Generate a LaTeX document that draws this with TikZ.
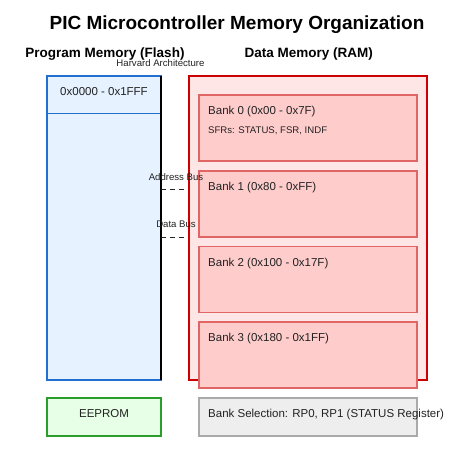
\documentclass[tikz,border=0pt]{standalone}
\usepackage{fontspec}
\setmainfont{Liberation Sans}
\usepackage{tikz}
\usetikzlibrary{positioning}

\definecolor{progfill}{HTML}{E6F2FF}
\definecolor{progline}{HTML}{2170D0}
\definecolor{datafill}{HTML}{FFE6E6}
\definecolor{dataline}{HTML}{CC0000}
\definecolor{bankfill}{HTML}{FFCCCC}
\definecolor{bankline}{HTML}{E06666}
\definecolor{eepfill}{HTML}{E6FFE6}
\definecolor{eepline}{HTML}{2A9D2A}
\definecolor{selfill}{HTML}{EEEEEE}
\definecolor{selline}{HTML}{AAAAAA}
\definecolor{textgray}{HTML}{222222}

\begin{document}
\begin{tikzpicture}[x=1pt,y=-1pt,
        box/.style={inner sep=0pt, outer sep=0pt, anchor=north west},
        bankbox/.style={box, draw=bankline, fill=bankfill, line width=1.5pt,
            minimum width=218pt, minimum height=66pt},
        titletext/.style={inner sep=0pt, font=\bfseries\fontsize{19}{22}\selectfont},
        headtext/.style={inner sep=0pt, font=\bfseries\fontsize{13.5}{16}\selectfont},
        bodytext/.style={inner sep=0pt, text=textgray, font=\fontsize{11.5}{13}\selectfont},
        smalltext/.style={inner sep=0pt, text=textgray, font=\fontsize{9.6}{11}\selectfont},
        busline/.style={dashed, dash pattern=on 5pt off 4pt, line width=1pt, textgray}]
        \useasboundingbox (0,0) rectangle (474,474);

        % headings
        \node[titletext, anchor=base] (title) at (237,29) {PIC Microcontroller Memory Organization};
        \node[headtext, anchor=base] (proghead) at (105,57.3) {Program Memory (Flash)};
        \node[headtext, anchor=base] (datahead) at (308.8,57.3) {Data Memory (RAM)};

        % program memory
        \node[box, draw=progline, fill=progfill, line width=2pt,
            minimum width=114pt, minimum height=304pt] (prog) at (47,75.5) {};
        \draw[progline, line width=1.5pt] (prog.west |- 0,113.3) -- (prog.east |- 0,113.3);
        \draw[black, line width=2pt] (prog.north east) -- (prog.south east);
        \node[bodytext, anchor=base] (progrange) at (104,95) {0x0000 - 0x1FFF};

        % data memory
        \node[box, draw=dataline, fill=datafill, line width=2pt,
            minimum width=238pt, minimum height=304pt] (data) at (189,75.5) {};

        \node[bankbox] (bank0) at (199,95) {};
        \node[bankbox] (bank1) at (199,171) {};
        \node[bankbox] (bank2) at (199,246.5) {};
        \node[bankbox] (bank3) at (199,322) {};

        \node[bodytext, anchor=base west] (bank0t) at ([xshift=9pt,yshift=-19.5pt]bank0.north west) {Bank 0 (0x00 - 0x7F)};
        \node[smalltext, anchor=base west] (sfrs) at ([xshift=9pt,yshift=-38pt]bank0.north west) {SFRs: STATUS, FSR, INDF};
        \node[bodytext, anchor=base west] (bank1t) at ([xshift=9pt,yshift=-19.8pt]bank1.north west) {Bank 1 (0x80 - 0xFF)};
        \node[bodytext, anchor=base west] (bank2t) at ([xshift=9pt,yshift=-20pt]bank2.north west) {Bank 2 (0x100 - 0x17F)};
        \node[bodytext, anchor=base west] (bank3t) at ([xshift=9pt,yshift=-19.7pt]bank3.north west) {Bank 3 (0x180 - 0x1FF)};

        % buses
        \node[smalltext, anchor=base] (harvard) at (160.5,66) {Harvard Architecture};
        \node[smalltext, anchor=base] (addrbus) at (176,180) {Address Bus};
        \node[smalltext, anchor=base] (databus) at (176,227.7) {Data Bus};
        \coordinate (addrA) at (prog.east |- 0,189.7);
        \coordinate (addrB) at (186,189.7);
        \coordinate (dataA) at (prog.east |- 0,237);
        \coordinate (dataB) at (186,237);
        \draw[busline] (addrA) -- (addrB);
        \draw[busline] (dataA) -- (dataB);

        % bottom row
        \node[box, draw=eepline, fill=eepfill, line width=2pt,
            minimum width=114pt, minimum height=38pt] (eeprom) at (47,398) {};
        \node[bodytext, anchor=base] (eepromt) at (104,417.3) {EEPROM};
        \node[box, draw=selline, fill=selfill, line width=1.5pt,
            minimum width=218pt, minimum height=38pt] (banksel) at (199,398) {};
        \node[bodytext, anchor=base west] (bankselt) at ([xshift=9pt,yshift=-19.7pt]banksel.north west) {Bank Selection: RP0, RP1 (STATUS Register)};
    \end{tikzpicture}
\end{document}
